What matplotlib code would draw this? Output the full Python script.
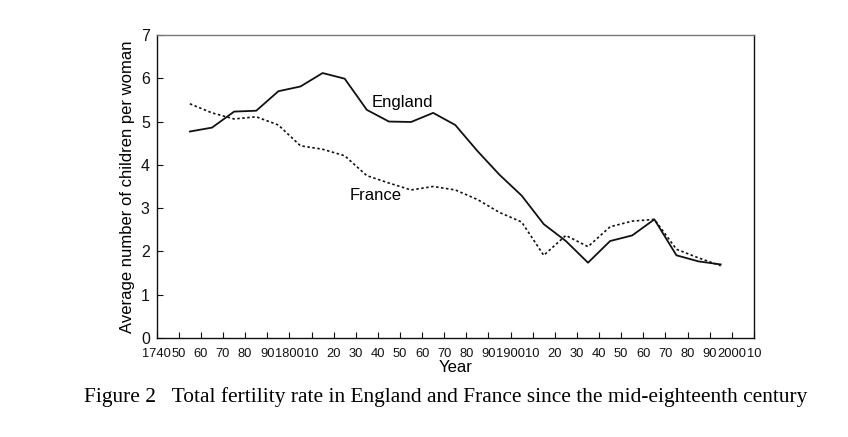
import matplotlib
matplotlib.use('Agg')
from matplotlib import pyplot

# Survey years (mid-decade)
years = [1755, 1765, 1775, 1785, 1795, 1805, 1815, 1825, 1835, 1845, 1855, 1865,
         1875, 1885, 1895, 1905, 1915, 1925, 1935, 1945, 1955, 1965, 1975, 1985, 1995]

england = [4.77, 4.86, 5.23, 5.25, 5.70, 5.81, 6.12, 5.99, 5.27, 5.00, 4.99, 5.20,
           4.92, 4.32, 3.77, 3.29, 2.63, 2.24, 1.74, 2.24, 2.37, 2.74, 1.91, 1.77, 1.70]

france = [5.41, 5.20, 5.06, 5.11, 4.92, 4.44, 4.36, 4.21, 3.75, 3.58, 3.42, 3.50,
          3.42, 3.20, 2.90, 2.68, 1.91, 2.37, 2.11, 2.57, 2.70, 2.74, 2.05, 1.85, 1.67]

x_ticks = list(range(1740, 2011, 10))
x_labels = ['1740', '50', '60', '70', '80', '90', '1800', '10', '20', '30', '40', '50',
            '60', '70', '80', '90', '1900', '10', '20', '30', '40', '50', '60', '70',
            '80', '90', '2000', '10']
y_ticks = [0, 1, 2, 3, 4, 5, 6, 7]

SANS = ['Liberation Sans Narrow', 'Liberation Sans', 'DejaVu Sans']
CAPTION = 'Figure 2   Total fertility rate in England and France since the mid-eighteenth century'


def main():
    figure = pyplot.figure(figsize=(8.48, 4.37), dpi=100)
    axes = figure.add_axes([0.1848, 0.2265, 0.7042, 0.6935])

    axes.plot(years, england, color='#111111', linewidth=1.3)
    axes.plot(years, france, color='#111111', linewidth=1.2, linestyle=(0, (1.5, 1.5)))

    axes.set_xlim(1740, 2010)
    axes.set_ylim(0, 7)
    axes.set_xticks(x_ticks)
    axes.set_xticklabels(x_labels, family=SANS, fontsize=9.3)
    axes.set_yticks(y_ticks)
    axes.set_yticklabels([str(v) for v in y_ticks], family=SANS, fontsize=11.5)
    axes.tick_params(direction='in', length=4, width=0.8, colors='#111111')
    axes.tick_params(axis='x', pad=7)
    axes.tick_params(axis='y', pad=5)

    for spine in axes.spines.values():
        spine.set_linewidth(1.0)
        spine.set_color('#111111')
    axes.spines['top'].set_color('#777777')

    axes.set_xlabel('Year', family=SANS, fontsize=12, labelpad=0)
    axes.set_ylabel('Average number of children per woman', family=SANS, fontsize=12, labelpad=4)

    axes.text(1837, 5.45, 'England', family=SANS, fontsize=12, va='center')
    axes.text(1827, 3.30, 'France', family=SANS, fontsize=12, va='center')

    figure.text(0.525, 0.092, CAPTION, family=['Liberation Serif', 'DejaVu Serif'],
                fontsize=15.4, ha='center', va='center')

    figure.savefig('out.png', dpi=100)


if __name__ == '__main__':
    main()
